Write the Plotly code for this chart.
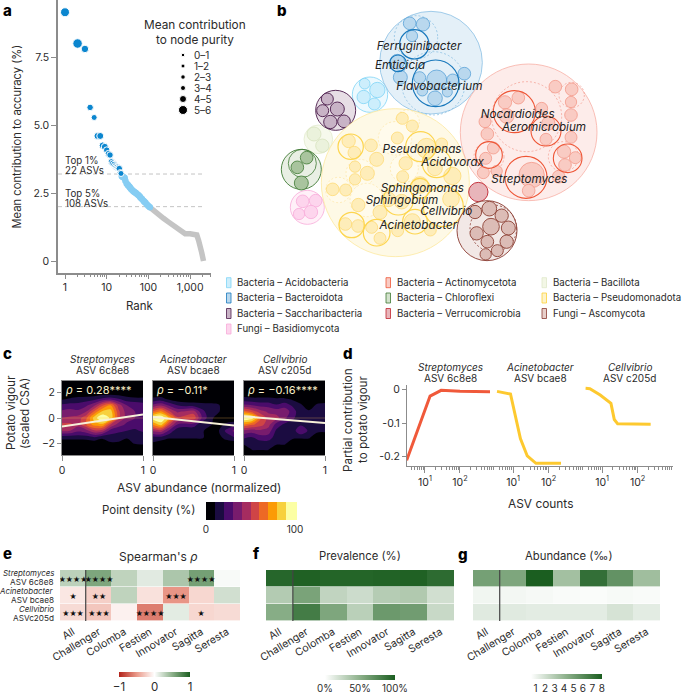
import plotly.graph_objects as go

W, H = 685, 693
FONT = "Inter"
INK = "#2b2b2b"
AXC = "#8c8c8c"

# ---------- panel a data ----------
TOP_RANK = [1, 2, 3, 4, 5, 6, 7, 8, 9, 10, 11, 12, 13, 14, 15, 16, 17, 18, 19, 20, 21, 22]
TOP_VAL = [9.15, 8.0, 7.8, 5.65, 5.28, 4.6, 4.6, 4.25, 4.2, 4.08, 3.95, 3.9, 3.65, 3.6, 3.55, 3.5, 3.47, 3.45, 3.42, 3.4, 3.25, 3.22]
TOP_SIZE = [9, 9.5, 7.5, 6.5, 6, 7, 7, 7, 7, 6.5, 6.5, 6.5, 6.5, 6.5, 6.5, 6.5, 6.5, 6.5, 6.5, 6.5, 6, 6]
MID_RANK = [23, 24, 25, 26, 27, 28, 30, 32, 33, 35, 36, 38, 40, 43, 45, 48, 50, 54, 58, 62, 65, 70, 76, 80, 85, 92, 100, 108]
MID_VAL = [3.12, 3.1, 3.08, 3.07, 3.05, 2.95, 2.85, 2.8, 2.78, 2.73, 2.7, 2.66, 2.62, 2.58, 2.55, 2.52, 2.5, 2.46, 2.42, 2.37, 2.33, 2.28, 2.22, 2.18, 2.14, 2.08, 2.02, 1.98]
LOW_RANK = [109, 132, 170, 229, 300, 398, 500, 620, 759, 1000, 1300, 1445, 1600, 1738, 1900, 2090]
LOW_VAL = [1.97, 1.85, 1.72, 1.57, 1.44, 1.32, 1.2, 1.08, 1.0, 1.0, 1.0, 0.96, 0.75, 0.59, 0.3, 0.0]
CUTOFF_VAL = [3.2, 2.0]
PURITY_LABELS = ["0–1", "1–2", "2–3", "3–4", "4–5", "5–6"]
PURITY_SIZE = [3.5, 4, 4.5, 5, 7, 9]
PURITY_Y = [55, 66, 77, 88, 99, 110]

# ---------- panel b data (x, y, r) ----------
BLUE_OUT = [(483, 188, 154)]
BLUE_DASH = [(438, 112, 65), (490, 250, 95)]
BLUE_GENUS = [(433, 133, 44), (497, 250, 70), (384, 190, 25)]
BLUE_ASV = [(419, 70, 19), (459, 73, 20), (426, 108, 17), (382, 185, 22), (391, 232, 21), (449, 233, 18), (500, 240, 30), (548, 240, 18), (583, 221, 19), (457, 272, 16), (495, 295, 22), (532, 276, 15)]
YEL_OUT = [(376, 548, 222)]
YEL_DASH = [(412, 366, 36), (375, 415, 50), (270, 520, 42), (205, 570, 38), (403, 505, 42), (290, 600, 50)]
YEL_GENUS = [(242, 440, 38), (452, 440, 45), (500, 490, 43), (520, 620, 60), (245, 675, 38), (320, 698, 40), (435, 665, 37), (385, 600, 45), (450, 565, 30)]
YEL_ASV = [(397, 355, 18), (427, 378, 18), (382, 414, 18), (236, 423, 20), (253, 458, 19), (303, 436, 19), (320, 478, 21), (255, 500, 17), (292, 520, 21), (255, 538, 17), (188, 568, 19), (227, 570, 18), (265, 615, 20), (330, 637, 21), (226, 672, 19), (264, 678, 19), (305, 682, 18), (330, 715, 18), (383, 692, 18), (427, 665, 24), (481, 690, 18), (515, 432, 18), (470, 445, 30), (407, 490, 20), (398, 530, 18), (547, 528, 26), (543, 597, 25), (495, 505, 22), (355, 598, 22), (395, 605, 22), (450, 555, 25)]
RED_OUT = [(776, 397, 205)]
RED_DASH = [(770, 350, 105), (905, 285, 38), (657, 470, 45), (880, 470, 45)]
RED_GENUS = [(733, 335, 63), (828, 393, 45), (768, 532, 63), (657, 465, 40), (893, 475, 43)]
RED_ASV = [(856, 260, 19), (905, 268, 19), (903, 306, 17), (903, 345, 19), (903, 412, 18), (705, 307, 20), (745, 293, 19), (710, 348, 22), (815, 325, 18), (835, 370, 20), (828, 418, 18), (645, 365, 18), (652, 402, 19), (670, 444, 18), (647, 475, 18), (640, 518, 18), (680, 513, 17), (882, 455, 20), (916, 473, 18), (885, 495, 19), (866, 530, 19), (785, 525, 38), (776, 572, 19)]
VERRU_OUT = [(625, 576, 29)]
BROWN_OUT = [(651, 692, 90)]
BROWN_GENUS = [(670, 685, 70)]
BROWN_ASV = [(615, 636, 20), (658, 626, 22), (695, 647, 20), (663, 680, 25), (715, 684, 21), (620, 700, 20), (710, 725, 20), (652, 725, 19), (682, 752, 18), (647, 763, 17)]
PURPLE_OUT = [(197, 331, 60)]
PURPLE_ASV = [(172, 297, 18), (158, 332, 18), (202, 327, 21), (181, 366, 20), (222, 364, 19)]
CYAN_OUT = [(300, 284, 53)]
CYAN_ASV = [(284, 251, 16), (322, 270, 23), (281, 291, 20), (313, 312, 18)]
PALE_OUT = [(145, 418, 43)]
PALE_ASV = [(132, 402, 21), (157, 437, 20)]
GREEN_OUT = [(94, 508, 60)]
GREEN_DASH = [(97, 490, 42)]
GREEN_ASV = [(110, 473, 19), (82, 502, 19), (94, 549, 21)]
PINK_OUT = [(112, 622, 51)]
PINK_ASV = [(98, 604, 19), (137, 602, 19), (87, 642, 17), (123, 636, 20)]
GENUS_LABELS = ["Ferruginibacter", "Emticicia", "Flavobacterium", "Nocardioides", "Aeromicrobium", "Streptomyces", "Pseudomonas", "Acidovorax", "Sphingomonas", "Sphingobium", "Cellvibrio", "Acinetobacter"]
GENUS_X = [447, 390, 508, 743, 822, 778, 456, 548, 457, 396, 529, 445]
GENUS_Y = [142, 198, 260, 345, 385, 541, 450, 488, 566, 602, 635, 678]
LEGEND_NAMES = ["Bacteria – Acidobacteria", "Bacteria – Bacteroidota", "Bacteria – Saccharibacteria", "Fungi – Basidiomycota",
                "Bacteria – Actinomycetota", "Bacteria – Chloroflexi", "Bacteria – Verrucomicrobia",
                "Bacteria – Bacillota", "Bacteria – Pseudomonadota", "Fungi – Ascomycota"]

# ---------- panel c data ----------
C_X = [0, .1, .2, .3, .4, .5, .6, .7, .8, .9, 1]
C_Y = [-2.9, -2.4, -2, -1.5, -1, -.5, 0, .5, 1, 1.5, 2, 2.4, 2.9]
STREP_Z = [
 [2,2,2,2,2,2,2,2,2,2,2],
 [2,2,2,2,2,2,2,2,2,2,2],
 [2,2,2,2,2,2,8,8,2,11,12],
 [15,15,15,16,20,13,16,15,12,12,12],
 [42,40,32,36,48,45,25,22,20,18,22],
 [52,52,44,60,75,78,50,35,28,25,28],
 [40,42,45,58,85,100,88,52,35,30,30],
 [32,34,32,40,62,82,85,52,35,30,30],
 [22,24,24,28,38,58,70,45,30,28,25],
 [8,11,13,14,16,22,25,20,14,12,12],
 [2,2,2,2,2,2,2,2,2,2,2],
 [2,2,2,2,2,2,2,2,2,2,2],
 [2,2,2,2,2,2,2,2,2,2,2]]
ACIN_Z = [
 [2,2,2,2,2,2,2,2,2,2,2],
 [2,2,2,2,2,2,2,2,2,2,2],
 [8,3,3,3,3,3,3,2,2,3,3],
 [18,18,12,12,12,12,12,5,5,15,20],
 [42,45,28,13,12,12,12,5,8,22,32],
 [72,85,52,30,26,26,13,12,5,12,15],
 [96,100,78,52,55,58,30,14,5,3,3],
 [62,72,52,38,42,45,24,14,12,3,2],
 [32,38,28,20,16,15,14,13,12,3,2],
 [12,13,7,3,3,3,3,3,2,2,2],
 [2,2,2,2,2,2,2,2,2,2,2],
 [2,2,2,2,2,2,2,2,2,2,2],
 [2,2,2,2,2,2,2,2,2,2,2]]
CELL_Z = [
 [2,2,2,2,2,2,2,2,2,2,2],
 [3,12,12,12,3,3,2,2,2,2,2],
 [12,13,15,15,12,12,3,3,3,2,2],
 [22,20,26,26,15,13,13,12,12,3,3],
 [38,35,38,36,18,14,14,30,18,13,12],
 [70,62,55,44,26,18,15,18,14,12,12],
 [100,95,62,46,44,32,22,14,13,12,12],
 [66,56,45,38,36,36,26,12,12,12,12],
 [32,30,26,26,21,26,18,12,3,12,14],
 [13,12,12,12,11,11,8,3,2,2,2],
 [2,2,2,2,2,2,2,2,2,2,2],
 [2,2,2,2,2,2,2,2,2,2,2],
 [2,2,2,2,2,2,2,2,2,2,2]]
FIT_X = [0, 1]
STREP_FIT = [-0.66, 0.27]
ACIN_FIT = [0.08, -0.58]
CELL_FIT = [0.13, -0.40]
ZERO_X = [-0.03, 1.03]
ZERO_Y = [0, 0]
RHO = ["0.28****", "−0.11*", "−0.16****"]
GENERA = ["Streptomyces", "Acinetobacter", "Cellvibrio"]
ASV_NAMES = ["ASV 6c8e8", "ASV bcae8", "ASV c205d"]
INFERNO = ["#000004", "#1b0c41", "#4a0c6b", "#781c6d", "#a52c60", "#cf4446", "#ed6925", "#fb9b06", "#f7d13d", "#fcffa4"]

# ---------- panel d data ----------
D1_X = [3.0, 14, 29, 100, 720]
D1_Y = [-0.211, -0.019, -0.002, -0.005, -0.006]
D2_X = [3.5, 8.4, 16, 25, 44, 224]
D2_Y = [-0.005, -0.013, -0.146, -0.198, -0.220, -0.220]
D3_X = [3.4, 4.5, 8.8, 17.7, 22, 27.4, 234]
D3_Y = [0.004, 0.003, -0.016, -0.041, -0.089, -0.102, -0.103]

# ---------- panels e-g data ----------
CULTIVARS = ["All", "Challenger", "Colomba", "Festien", "Innovator", "Sagitta", "Seresta"]
ROWS = [0, 1, 2]
RHO_Z = [[.29, .56, .28, .13, .36, .6, .03],
         [-.12, -.24, .28, -.15, -.52, -.2, .2],
         [-.18, -.28, -.07, -.62, .12, -.2, -.18]]
RHO_STARS = [["★★★★", "★★★★", "", "", "", "★★★★", ""],
             ["★", "★★", "", "", "★★★", "", ""],
             ["★★★", "★★★", "", "★★★★", "", "★", ""]]
PREV_Z = [[95, 98, 96, 96, 97, 98, 92],
          [33, 58, 27, 22, 32, 34, 20],
          [52, 82, 56, 30, 64, 62, 24]]
ABUND_Z = [[5.0, 4.7, 8.0, 3.5, 7.2, 5.6, 3.6],
           [0.95, 0.9, 0.8, 0.7, 0.65, 0.75, 0.7],
           [1.5, 1.5, 1.4, 1.4, 1.4, 1.85, 1.4]]
ROW_GENUS = ["Streptomyces", "Acinetobacter", "Cellvibrio"]
ROW_ASV = ["ASV 6c8e8", "ASV bcae8", "ASVc205d"]
A_MINOR = [2, 3, 4, 5, 6, 7, 8, 9, 20, 30, 40, 50, 60, 70, 80, 90, 200, 300, 400, 500, 600, 700, 800, 900, 2000, 3000]
D_MINOR = [4, 5, 6, 7, 8, 9, 20, 30, 40, 50, 60, 70, 80, 90, 200, 300, 400, 500, 600, 700, 800, 900]


def xd(a, b):
    return [a / W, b / W]


def yd(top, bot):
    return [1 - bot / H, 1 - top / H]


fig = go.Figure()
ann = []
shapes = []


def T(x, y, text, size=9.5, anchor="center", angle=0, color=INK, weight=None):
    ann.append(dict(x=x / W, y=1 - y / H, xref="paper", yref="paper", text=text, showarrow=False,
                    xanchor=anchor, yanchor="middle", textangle=angle,
                    font=dict(family=FONT, size=size, color=color, weight=weight),
                    borderpad=0, borderwidth=0))


axis_base = dict(showgrid=False, zeroline=False, linecolor=AXC, tickcolor=AXC, ticks="outside",
                 tickfont=dict(family=FONT, size=10.5, color=INK))
layout = {}

# ---- panel a ----
layout["xaxis"] = dict(axis_base, domain=xd(58, 211), anchor="y", type="log", range=[-0.168, 3.5],
                       showline=True, linewidth=1.5, ticklen=4,
                       tickvals=[1, 10, 100, 1000], ticktext=["1", "10", "100", "1,000"],
                       minor=dict(ticks="outside", ticklen=2, tickmode="array", tickvals=A_MINOR, tickcolor=AXC))
layout["yaxis"] = dict(axis_base, domain=yd(0, 273), anchor="x", range=[-0.44, 9.6],
                       showline=True, linewidth=1.5, ticklen=5,
                       tickvals=[0, 2.5, 5, 7.5], ticktext=["0", "2.5", "5.0", "7.5"])
for v in CUTOFF_VAL:
    fig.add_trace(go.Scatter(x=[0.68, 2000], y=[v, v], mode="lines", xaxis="x", yaxis="y",
                             line=dict(color="#c4c4c4", width=1, dash="4px,3px"), hoverinfo="skip", showlegend=False))
fig.add_trace(go.Scatter(x=LOW_RANK, y=LOW_VAL, mode="lines", xaxis="x", yaxis="y",
                         line=dict(color="#c4c4c4", width=5.5), showlegend=False))
fig.add_trace(go.Scatter(x=MID_RANK, y=MID_VAL, mode="markers", xaxis="x", yaxis="y",
                         marker=dict(color="#86cdf3", size=6.5, opacity=1), showlegend=False))
fig.add_trace(go.Scatter(x=TOP_RANK, y=TOP_VAL, mode="markers", xaxis="x", yaxis="y",
                         marker=dict(color="#0b86cf", size=TOP_SIZE, opacity=1), showlegend=False))
T(16.5, 137, "Mean contribution to accuracy (%)", 11.2, angle=-90)
T(140, 306, "Rank", 11.5)
T(65, 161, "Top 1%", 9.7, "left")
T(65, 170, "22 ASVs", 9.7, "left")
T(65, 193, "Top 5%", 9.7, "left")
T(65, 203, "108 ASVs", 9.7, "left")
T(195, 25, "Mean contribution", 11.8)
T(195, 40, "to node purity", 11.8)
for lab, py in zip(PURITY_LABELS, PURITY_Y):
    T(194, py, lab, 10, "left")

# overlay pixel axes for the purity key
layout["xaxis20"] = dict(domain=[0, 1], range=[0, W], visible=False, anchor="y20")
layout["yaxis20"] = dict(domain=[0, 1], range=[H, 0], visible=False, anchor="x20")
fig.add_trace(go.Scatter(x=[183] * 6, y=PURITY_Y, mode="markers", xaxis="x20", yaxis="y20",
                         marker=dict(color="#000000", size=PURITY_SIZE, opacity=1), showlegend=False))

# ---- panel b ----
layout["xaxis2"] = dict(domain=xd(270, 685), range=[0, 1245], visible=False, anchor="y2")
layout["yaxis2"] = dict(domain=yd(0, 270), range=[810, 0], visible=False, anchor="x2")


def circles(items, fill, line, width=0.8, dash="solid"):
    for (x, y, r) in items:
        shapes.append(dict(type="circle", xref="x2", yref="y2", layer="below",
                           x0=x - r, x1=x + r, y0=y - r, y1=y + r,
                           fillcolor=fill, line=dict(color=line, width=width, dash=dash)))


circles(PALE_OUT, "#f6f9ec", "#dfe9ca", 0.7)
circles(PALE_ASV, "#ebf2dc", "#d3e0b8", 0.7)
circles(CYAN_OUT, "#edf9fe", "#7fd4f6", 0.8)
circles(CYAN_ASV, "#cdeefc", "#7fd4f6", 0.8)
circles(PINK_OUT, "#fff0f8", "#f7abd9", 0.8)
circles(PINK_ASV, "#fdd5ed", "#f7abd9", 0.8)
circles(GREEN_OUT, "#e9efe4", "#3f7a34", 0.9)
circles(GREEN_DASH, "rgba(0,0,0,0)", "#3f7a34", 0.8)
circles(GREEN_ASV, "#a9c49e", "#3f7a34", 0.8)
circles(PURPLE_OUT, "#e7dee5", "#4a1a4a", 0.9)
circles(PURPLE_ASV, "#c8b3c6", "#4a1a4a", 0.9)
circles(BLUE_OUT, "#e4f0f8", "#8cc0e4", 0.8)
circles(BLUE_DASH, "rgba(0,0,0,0)", "#6eb0dc", 0.6, "2px,2px")
circles(BLUE_ASV, "#b9d8ee", "#4a9ad4", 0.7)
circles(BLUE_GENUS, "rgba(0,0,0,0)", "#1878bc", 1.2)
circles(YEL_OUT, "#fef9e6", "#fde9a0", 0.8)
circles(YEL_DASH, "#fffbec", "#fde39a", 0.6, "2px,2px")
circles(YEL_ASV, "#feedb9", "#fdd76a", 0.7)
circles(YEL_GENUS, "rgba(0,0,0,0)", "#fdd54e", 1.2)
circles(RED_OUT, "#fdecea", "#f7b0a6", 0.8)
circles(RED_DASH, "rgba(0,0,0,0)", "#f28c7c", 0.6, "2px,2px")
circles(RED_ASV, "#f9cbc3", "#f2907f", 0.7)
circles(RED_GENUS, "rgba(0,0,0,0)", "#ee5535", 1.1)
circles(VERRU_OUT, "#e8b5ba", "#c0232f", 0.9)
circles(BROWN_OUT, "#f2e8e6", "#8a3a30", 0.9)
circles(BROWN_GENUS, "rgba(0,0,0,0)", "#8a3a30", 0.8, "2px,2px")
circles(BROWN_ASV, "#dcbcb6", "#8c3f33", 0.9)
fig.add_trace(go.Scatter(x=GENUS_X, y=GENUS_Y, text=[f"<i>{g}</i>" for g in GENUS_LABELS], mode="text",
                         xaxis="x2", yaxis="y2", textposition="middle center",
                         textfont=dict(family=FONT, size=11.7, color="#222222"), showlegend=False))

# legend of panel b
SW_X = [226.5, 226.5, 226.5, 226.5, 386, 386, 386, 542, 542, 542]
SW_Y = [282.7, 298, 313.5, 329, 282.7, 298, 313.5, 282.7, 298, 313.5]
SW_FILL = ["#cdeefc", "#b9d8ee", "#c8b3c6", "#fdd5ed", "#f9cbc3", "#d3e2cc", "#e8b5ba", "#f3f7e6", "#fef3c8", "#e8cfca"]
SW_LINE = ["#7fd4f6", "#1878bc", "#4a1a4a", "#f7abd9", "#ee5535", "#3f7a34", "#c0232f", "#dfe9ca", "#fcd03a", "#8a3a30"]
for name, sx, sy, sf, sl in zip(LEGEND_NAMES, SW_X, SW_Y, SW_FILL, SW_LINE):
    shapes.append(dict(type="rect", xref="paper", yref="paper", layer="below", x0=sx / W, x1=(sx + 4.5) / W,
                       y0=1 - (sy - 5) / H, y1=1 - (sy + 5) / H, fillcolor=sf, line=dict(color=sl, width=0.8)))
    T(sx + 10.5, sy, name, 9.7, "left")

# ---- panel c ----
C_DOM = [(62, 143), (153, 234), (244, 325)]
C_ZS = [STREP_Z, ACIN_Z, CELL_Z]
C_FITS = [STREP_FIT, ACIN_FIT, CELL_FIT]
steps = []
for i, c in enumerate(INFERNO):
    steps += [[i / 10, c], [(i + 1) / 10, c]]
for i in range(3):
    xa, ya = f"x{3 + i}", f"y{3 + i}"
    layout[f"xaxis{3 + i}"] = dict(axis_base, domain=xd(*C_DOM[i]), anchor=ya, range=[0, 1], tickvals=[0, 1],
                                   ticktext=["0", "1"], ticklen=5, showline=True, linewidth=1, mirror=True)
    layout[f"yaxis{3 + i}"] = dict(axis_base, domain=yd(381, 455), anchor=xa, range=[-2.9, 2.9],
                                   tickvals=[-2, 0, 2], ticktext=["−2", "0", "2"],
                                   ticks="outside" if i == 0 else "", ticklen=4, showticklabels=i == 0)
    fig.add_trace(go.Contour(x=C_X, y=C_Y, z=C_ZS[i], xaxis=xa, yaxis=ya, zmin=0, zmax=100, colorscale=steps,
                             contours=dict(start=0, end=100, size=10, coloring="fill"),
                             line=dict(width=0, smoothing=1.0), showscale=i == 0, hoverinfo="skip",
                             colorbar=dict(orientation="h", lenmode="pixels", len=89, thickness=18,
                                           x=250.5 / W, xanchor="center", y=1 - 531.5 / H, yanchor="bottom",
                                           xpad=0, ypad=0, outlinewidth=0, ticks="", tickvals=[0, 100],
                                           ticktext=["0", "100"], ticklabelposition="outside bottom",
                                           tickfont=dict(family=FONT, size=10, color=INK))))
    fig.add_trace(go.Scatter(x=ZERO_X, y=ZERO_Y, mode="lines", xaxis=xa, yaxis=ya, cliponaxis=False,
                             line=dict(color="rgba(255,190,90,0.3)", width=1), hoverinfo="skip", showlegend=False))
    fig.add_trace(go.Scatter(x=FIT_X, y=C_FITS[i], mode="lines", xaxis=xa, yaxis=ya,
                             line=dict(color="#f7f0d8", width=2), hoverinfo="skip", showlegend=False))
    cx = (C_DOM[i][0] + C_DOM[i][1]) / 2
    T(cx, 359, f"<i>{GENERA[i]}</i>", 10)
    T(cx, 370, ASV_NAMES[i], 10)
    T(C_DOM[i][0] + 3, 390, f"<i>ρ</i> = {RHO[i]}", 11, "left", color="#fbf1c9")
T(11, 413, "Potato vigour", 11.8, angle=-90)
T(25, 413, "(scaled CSA)", 11.5, angle=-90)
T(199, 488, "ASV abundance (normalized)", 11.9)
T(196, 510, "Point density (%)", 11.5, "right")

# ---- panel d ----
D_DOM = [(407, 495), (495, 584), (584, 673)]
D_SER = [(D1_X, D1_Y, "#f0593a"), (D2_X, D2_Y, "#fdc92f"), (D3_X, D3_Y, "#fdc92f")]
for i in range(3):
    xa, ya = f"x{6 + i}", f"y{6 + i}"
    layout[f"xaxis{6 + i}"] = dict(axis_base, domain=xd(*D_DOM[i]), anchor=ya, type="log", range=[0.487, 3.0],
                                   tickvals=[10, 100], ticktext=["10<sup>1</sup>", "10<sup>2</sup>"],
                                   showline=True, linewidth=1, ticklen=6,
                                   minor=dict(ticks="outside", ticklen=2.5, tickmode="array", tickvals=D_MINOR, tickcolor=AXC))
    layout[f"yaxis{6 + i}"] = dict(axis_base, domain=yd(385, 466), anchor=xa, range=[-0.228, 0.014],
                                   tickvals=[0, -0.1, -0.2], ticktext=["0", "-0.1", "-0.2"], ticklen=4,
                                   showline=i == 0, linewidth=1, ticks="outside" if i == 0 else "",
                                   showticklabels=i == 0)
    xs, ys, col = D_SER[i]
    fig.add_trace(go.Scatter(x=xs, y=ys, mode="lines", xaxis=xa, yaxis=ya, cliponaxis=False,
                             line=dict(color=col, width=3), showlegend=False))
    cx = [450.7, 540, 629.5][i]
    T(cx, 367, f"<i>{GENERA[i]}</i>", 10)
    T(cx, 378, ASV_NAMES[i], 10)
T(348, 420, "Partial contribution", 11.6, angle=-90)
T(363, 420, "to potato vigour", 11.6, angle=-90)
T(540, 503, "ASV counts", 11.9)

# ---- panels e,f,g ----
H_DOM = [(60, 240), (266, 454), (473, 660)]
H_Z = [RHO_Z, PREV_Z, ABUND_Z]
H_SCALE = [
    [[0, "#b2231a"], [.25, "#ea9a8a"], [.5, "#ffffff"], [.75, "#8cb08a"], [1, "#1b5e20"]],
    [[0, "#ffffff"], [.5, "#8cb08a"], [1, "#1b5e20"]],
    [[0, "#ffffff"], [.5, "#8cb08a"], [1, "#1b5e20"]],
]
H_RANGE = [(-1, 1), (0, 100), (0.5, 8)]
H_BAR = [(119, 190), (325, 395), (531, 601.7)]
H_TICKV = [[-1, 0, 1], [0, 50, 100], [1, 2, 3, 4, 5, 6, 7, 8]]
H_TICKT = [["−1", "0", "1"], ["0%", "50%", "100%"], ["1", "2", "3", "4", "5", "6", "7", "8"]]
H_TICKS = [11.5, 9.8, 10]
H_TITLE = ["Spearman's <i>ρ</i>", "Prevalence (%)", "Abundance (‰)"]
H_TX = [158, 360, 569]
for i in range(3):
    xa, ya = f"x{9 + i}", f"y{9 + i}"
    layout[f"xaxis{9 + i}"] = dict(domain=xd(*H_DOM[i]), anchor=ya, range=[-0.5, 6.5], tickvals=list(range(7)),
                                   ticktext=CULTIVARS, tickangle=-31, ticks="", showgrid=False, zeroline=False,
                                   tickfont=dict(family=FONT, size=10.5, color=INK), ticklabelstandoff=2)
    layout[f"yaxis{9 + i}"] = dict(domain=yd(570, 621), anchor=xa, range=[2.5, -0.5], showticklabels=False,
                                   ticks="", showgrid=False, zeroline=False)
    kw = {}
    if i == 0:
        kw = dict(text=RHO_STARS, texttemplate="%{text}", textfont=dict(family="DejaVu Sans", size=8, color="#111111"))
    fig.add_trace(go.Heatmap(x=list(range(7)), y=ROWS, z=H_Z[i], xaxis=xa, yaxis=ya, colorscale=H_SCALE[i],
                             zmin=H_RANGE[i][0], zmax=H_RANGE[i][1], ygap=0.6, hoverinfo="skip",
                             colorbar=dict(orientation="h", lenmode="pixels", len=H_BAR[i][1] - H_BAR[i][0], thickness=5,
                                           x=sum(H_BAR[i]) / 2 / W, xanchor="center", y=1 - 690.5 / H, yanchor="bottom",
                                           xpad=0, ypad=0, outlinewidth=0, ticks="", tickvals=H_TICKV[i],
                                           ticktext=H_TICKT[i], ticklabelposition="outside bottom",
                                           tickfont=dict(family=FONT, size=H_TICKS[i], color=INK)), **kw))
    fig.add_trace(go.Scatter(x=[0.5, 0.5], y=[-0.5, 2.5], mode="lines", xaxis=xa, yaxis=ya,
                             line=dict(color="#444444", width=1.2), hoverinfo="skip", showlegend=False))
    T(H_TX[i], 556, H_TITLE[i], 11.3 if i else 12)
for j in range(3):
    T(54, 572.5 + 18 * j, f"<i>{ROW_GENUS[j]}</i>", 7.9, "right")
    T(54, 581.8 + 18 * j, ROW_ASV[j], 8.2, "right")

# panel letters
for (lx, ly, lt) in [(3, 10, "a"), (277, 10, "b"), (3, 353, "c"), (343, 353, "d"), (3, 553, "e"), (253, 553, "f"), (458, 554, "g")]:
    T(lx, ly, lt, 15, "left", color="#000000", weight=800)

layout.update(width=W, height=H, margin=dict(l=0, r=0, t=0, b=0, autoexpand=False), paper_bgcolor="white",
              plot_bgcolor="rgba(0,0,0,0)", showlegend=False, shapes=shapes, annotations=ann,
              font=dict(family=FONT, color=INK))
fig.update_layout(**layout)
fig.write_html("out.html", config={"displayModeBar": False}, post_script="document.body.style.margin='0';")
